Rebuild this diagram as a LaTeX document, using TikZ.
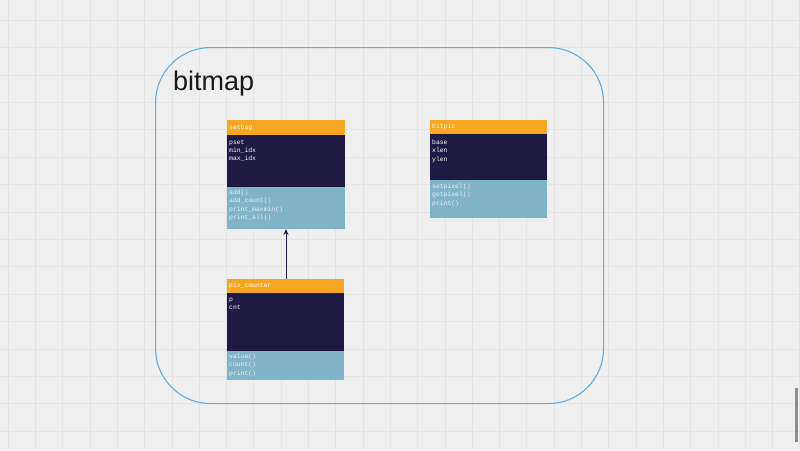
\documentclass[tikz,border=0pt]{standalone}
\usepackage{fontspec}
\setmainfont{Liberation Sans}
\newfontfamily\monof{Liberation Mono}
\usetikzlibrary{arrows.meta}
\definecolor{bg}{HTML}{EFEFEF}
\definecolor{gridc}{HTML}{E4E4E4}
\definecolor{frame}{HTML}{62AEDC}
\definecolor{hdr}{HTML}{F5A623}
\definecolor{navy}{HTML}{1E1A44}
\definecolor{meth}{HTML}{7FB3C5}
\definecolor{methtxt}{HTML}{E4F2F7}
\tikzset{
  hdrbox/.style={rectangle, fill=hdr, anchor=north west, inner sep=0pt, outer sep=0pt},
  fieldbox/.style={rectangle, fill=navy, anchor=north west, inner sep=0pt, outer sep=0pt},
  methbox/.style={rectangle, fill=meth, anchor=north west, inner sep=0pt, outer sep=0pt},
  cltext/.style={anchor=north west, inner sep=0pt, font=\monof\fontsize{6.4}{8.1}\selectfont, align=left},
}
\begin{document}
\begin{tikzpicture}[x=1pt,y=-1pt]
\fill[bg] (0,0) rectangle (800,450);
\useasboundingbox (0,0) rectangle (800,450);
% grid
\foreach \i in {0,...,29} {\draw[gridc, line width=0.6pt] ({8+27.3*\i},0) -- ({8+27.3*\i},450);}
\foreach \i in {0,...,16} {\draw[gridc, line width=0.6pt] (0,{20+27.4*\i}) -- (800,{20+27.4*\i});}
% scrollbar
\node[rectangle, fill=black!45, minimum width=3pt, minimum height=54pt, inner sep=0pt, anchor=north west] (scroll) at (795,388) {};
% package frame
\node[rectangle, draw=frame, line width=1.1pt, rounded corners=55pt, minimum width=448pt, minimum height=356pt, anchor=north west, inner sep=0pt] (pkg) at (155,47) {};
\node[anchor=base west, inner sep=0pt, font=\fontsize{27}{30}\selectfont, text=black!90] (pkgname) at (173,90) {bitmap};
% setbag
\node[hdrbox, minimum width=118pt, minimum height=15pt] (sbh) at (227,120) {};
\node[fieldbox, minimum width=118pt, minimum height=52pt] (sbf) at (227,135) {};
\node[methbox, minimum width=118pt, minimum height=42pt] (sbm) at (227,187) {};
\node[cltext, text=white] (sbht) at (229,125) {setbag};
\node[cltext, text=white] (sbft) at (229,140) {pset\\min\_idx\\max\_idx};
\node[cltext, text=methtxt] (sbmt) at (229,190) {add()\\add\_count()\\print\_maxmin()\\print\_all()};
% bitpic
\node[hdrbox, minimum width=117pt, minimum height=14pt] (bph) at (430,120) {};
\node[fieldbox, minimum width=117pt, minimum height=46pt] (bpf) at (430,134) {};
\node[methbox, minimum width=117pt, minimum height=38pt] (bpm) at (430,180) {};
\node[cltext, text=white] (bpht) at (432,124) {bitpic};
\node[cltext, text=white] (bpft) at (432,140) {base\\xlen\\ylen};
\node[cltext, text=methtxt] (bpmt) at (432,184) {setpixel()\\getpixel()\\print()};
% pix_counter
\node[hdrbox, minimum width=117pt, minimum height=14pt] (pch) at (227,279) {};
\node[fieldbox, minimum width=117pt, minimum height=58pt] (pcf) at (227,293) {};
\node[methbox, minimum width=117pt, minimum height=29pt] (pcm) at (227,351) {};
\node[cltext, text=white] (pcht) at (229,283) {pix\_counter};
\node[cltext, text=white] (pcft) at (229,298) {p\\cnt};
\node[cltext, text=methtxt] (pcmt) at (229,354) {value()\\count()\\print()};
% inheritance arrow
\draw[navy, line width=1pt, -{Stealth[length=6pt,width=5pt]}] (pch.north -| 286,0) -- (sbm.south -| 286,0);
\end{tikzpicture}
\end{document}
